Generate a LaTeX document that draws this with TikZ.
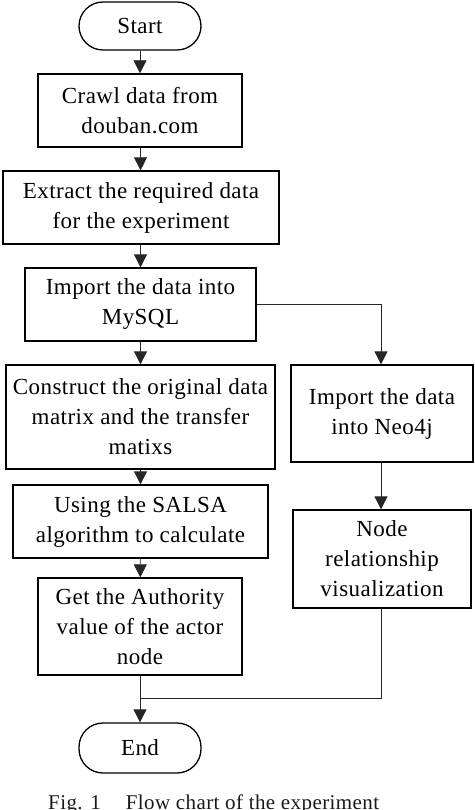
\documentclass[tikz,border=0pt]{standalone}
\usepackage{fontspec}
\setmainfont{Liberation Serif}[LetterSpace=2.0]
\usetikzlibrary{arrows.meta}
\tikzset{
  box/.style={draw=black, line width=1.3pt, inner sep=0pt, align=center,
    font=\fontsize{23}{30}\selectfont},
  term/.style={box, rounded corners=24pt},
  flow/.style={draw=black!85, line width=0.8pt},
  arr/.style={flow, -{Triangle[width=13pt,length=13pt]}}
}
\begin{document}
\begin{tikzpicture}[x=1pt,y=-1pt]
\useasboundingbox (0,0) rectangle (474,810);
\node[term, minimum width=122pt, minimum height=48pt] (start) at (140,26) {Start};
\node[box, minimum width=204pt, minimum height=73pt] (crawl) at (140,110.5) {Crawl data from\\douban.com};
\node[box, minimum width=276pt, minimum height=73pt] (extract) at (141,207.5) {Extract the required data\\for the experiment};
\node[box, minimum width=231pt, minimum height=73pt] (mysql) at (140.5,304.5) {Import the data into\\MySQL};
\node[box, minimum width=269pt, minimum height=104pt] (construct) at (140.5,417) {Construct the original data\\matrix and the transfer\\matixs};
\node[box, minimum width=255pt, minimum height=73pt] (salsa) at (140.5,521.5) {Using the SALSA\\algorithm to calculate};
\node[box, minimum width=204pt, minimum height=97pt] (auth) at (140,626.5) {Get the Authority\\value of the actor\\node};
\node[term, minimum width=122pt, minimum height=50pt] (end) at (140,748) {End};
\node[box, minimum width=182pt, minimum height=97pt] (neo) at (382,413.5) {Import the data\\into Neo4j};
\node[box, minimum width=178pt, minimum height=98pt] (vis) at (382,559) {Node\\relationship\\visualization};
\coordinate (join) at (140,698);
\coordinate (branch) at (381,304);

\draw[arr] (start) -- (crawl);
\draw[arr] (crawl) -- (extract);
\draw[arr] (extract.south -| mysql.north) -- (mysql);
\draw[arr] (mysql) -- (construct);
\draw[arr] (construct) -- (salsa);
\draw[arr] (salsa) -- (auth);
\draw[arr] (auth) -- (end);
\draw[arr] (mysql.east |- branch) -- (branch) -- (neo.north -| branch);
\draw[arr] (neo.south -| branch) -- (vis.north -| branch);
\draw[flow] (vis.south -| branch) |- (join);

\node[anchor=base west, inner sep=0pt, font=\fontsize{21}{24}\selectfont, text=black!90] (cap) at (48,809) {Fig. 1\hspace{25pt}Flow chart of the experiment};
\end{tikzpicture}
\end{document}
